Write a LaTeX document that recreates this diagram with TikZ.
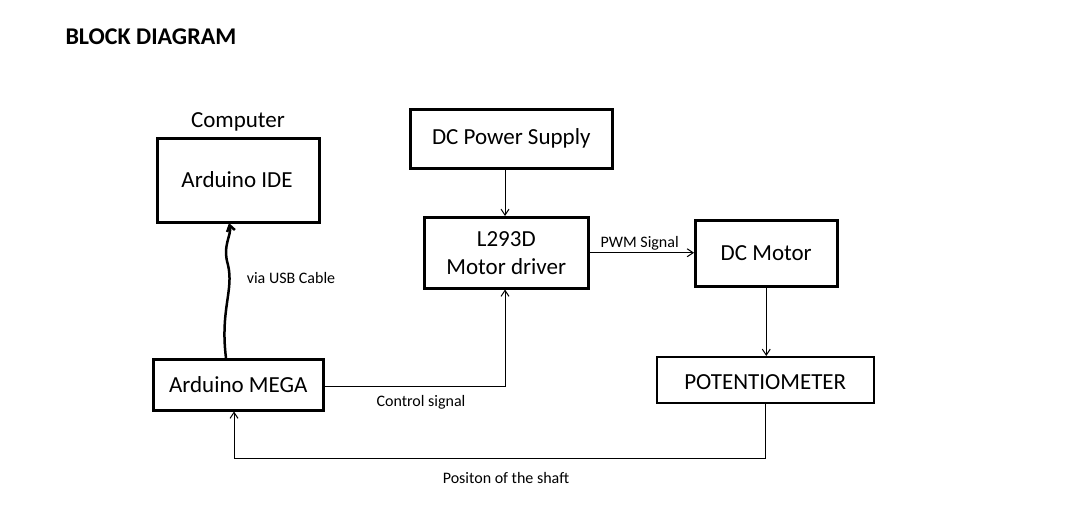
\documentclass[tikz,border=0pt]{standalone}
\usepackage{fontspec}
\setmainfont{Carlito}
\usetikzlibrary{arrows.meta}
\begin{document}
\begin{tikzpicture}[x=1pt,y=-1pt,
 blk/.style={draw,line width=2.5pt,inner sep=0pt},
 thin/.style={draw,line width=1.5pt,inner sep=0pt},
 txt/.style={font=\fontsize{23}{27}\selectfont,align=center},
 con/.style={line width=1pt,-{Straight Barb[length=6pt,width=8pt]}},
 lbl/.style={font=\fontsize{16}{19}\selectfont}]
\useasboundingbox (0,0) rectangle (1079,527);
\node[anchor=west,font=\bfseries\fontsize{24}{28}\selectfont] (t) at (62,37) {BLOCK DIAGRAM};
\node[blk,minimum width=162pt,minimum height=84pt,anchor=north west] (ide) at (156,137) {};
\node[txt] (ideT) at (237,180) {Arduino IDE};
\node[txt] (comp) at (238,122) {Computer};
\node[blk,minimum width=202pt,minimum height=59pt,anchor=north west] (ps) at (409,108) {};
\node[txt] at (ps.center) {DC Power Supply};
\node[blk,minimum width=164pt,minimum height=71pt,anchor=north west] (drv) at (423,216) {};
\node[txt] at (drv.center) {L293D\\[1pt]Motor driver};
\node[blk,minimum width=142pt,minimum height=66pt,anchor=north west] (mot) at (694,219) {};
\node[txt] at (mot.center) {DC Motor};
\node[blk,minimum width=170pt,minimum height=51pt,anchor=north west] (mega) at (152,358) {};
\node[txt] at (mega.center) {Arduino MEGA};
\node[thin,minimum width=217pt,minimum height=46pt,anchor=north west] (pot) at (656,356) {};
\node[txt] at ([yshift=-2pt]pot.center) {POTENTIOMETER};
\coordinate (p1) at (505,167);
\draw[con] (p1) -- (p1 |- drv.north);
\draw[con] (drv.east) -- (mot.west |- drv.east) node[pos=0.48,above,lbl,inner sep=2pt] {PWM Signal};
\draw[con] (mot.south) -- (mot.south |- pot.north);
\coordinate (k) at (505,386);
\draw[con] (mega.east |- k) -- (k) -- (k |- drv.south);
\node[lbl] (cs) at (421,402) {Control signal};
\coordinate (c1) at (765,458);
\coordinate (c2) at (234,458);
\draw[con] (pot.south -| c1) -- (c1) -- (c2) -- (c2 |- mega.south);
\node[lbl] (ps2) at (506,478) {Positon of the shaft};
\draw[line width=2.5pt,-{Straight Barb[length=6pt,width=8pt]}] (226,358) .. controls (220,310) and (234,290) .. (228,265) .. controls (222,245) and (232,235) .. (229,223);
\node[lbl] (usb) at (291,278) {via USB Cable};
\end{tikzpicture}
\end{document}
